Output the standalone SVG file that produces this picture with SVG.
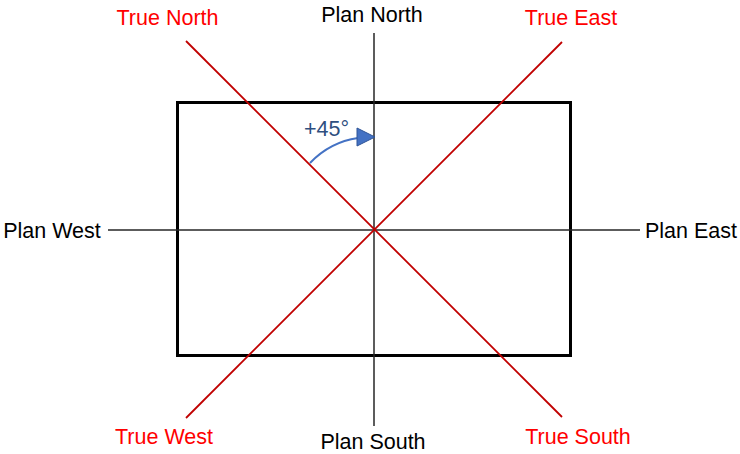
<svg xmlns="http://www.w3.org/2000/svg" width="740" height="454" viewBox="0 0 740 454">
<style>
.lbl{font-family:"Liberation Sans",Arial,sans-serif;font-size:21.5px;text-anchor:middle}
.red{fill:#FF0000}
.blk{fill:#000}
.axis{stroke:#262626;stroke-width:1.5;fill:none}
.true{stroke:#C00000;stroke-width:1.8;fill:none}
</style>
<rect id="plan" x="177.5" y="102.5" width="393" height="253" fill="none" stroke="#000" stroke-width="3"/>
<g id="connectors">
<line class="axis" x1="374" y1="33" x2="374" y2="426"/>
<line class="axis" x1="108" y1="230" x2="640" y2="230"/>
<line class="true" x1="186" y1="41" x2="562" y2="417"/>
<line class="true" x1="562" y1="42" x2="186" y2="418"/>
<path d="M310,163 Q330,142 358,138" fill="none" stroke="#4472C4" stroke-width="2"/>
<polygon points="357,128 375,137 357,146" fill="#4472C4" stroke="#2F5597" stroke-width="1"/>
</g>
<g id="n-angle"><text x="326.5" y="136" class="lbl" style="fill:#2F4F7F">+45°</text></g>
<g id="n-true-north"><text x="167.5" y="25" class="lbl red">True North</text></g>
<g id="n-plan-north"><text x="372" y="22" class="lbl blk">Plan North</text></g>
<g id="n-true-east"><text x="571" y="25" class="lbl red">True East</text></g>
<g id="n-plan-west"><text x="52" y="238" class="lbl blk">Plan West</text></g>
<g id="n-plan-east"><text x="691" y="238" class="lbl blk">Plan East</text></g>
<g id="n-true-west"><text x="164" y="444" class="lbl red">True West</text></g>
<g id="n-plan-south"><text x="373" y="449" class="lbl blk">Plan South</text></g>
<g id="n-true-south"><text x="578" y="444" class="lbl red">True South</text></g>
</svg>
